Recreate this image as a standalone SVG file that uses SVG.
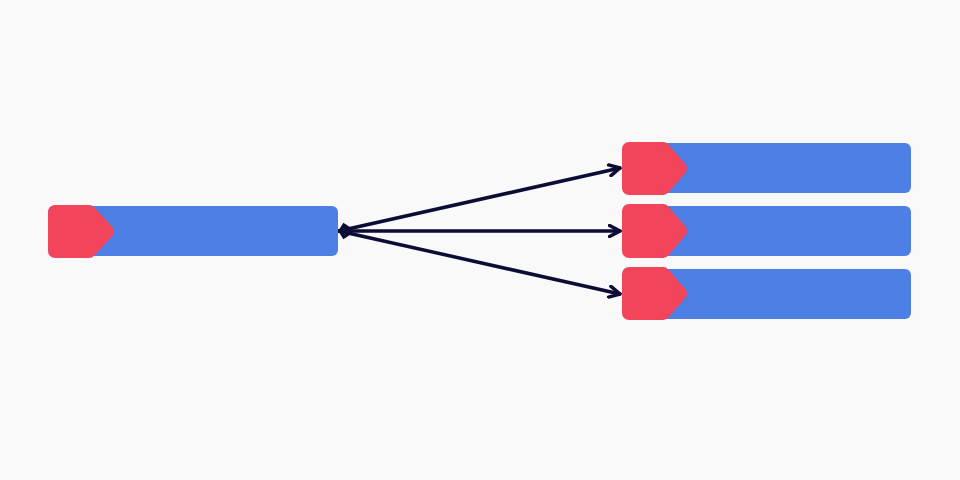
<svg xmlns="http://www.w3.org/2000/svg" width="960" height="480" viewBox="0 0 960 480">
<style>
.bar{fill:#4e7fe4}
.tag{fill:#f2445a;stroke:#f2445a;stroke-width:14;stroke-linejoin:round}
.edge{stroke:#0b0d35;stroke-width:3.5;fill:none;stroke-linecap:round}
</style>
<defs>
<marker id="arr" viewBox="0 0 14 14" refX="12.5" refY="7" markerWidth="14" markerHeight="14" markerUnits="userSpaceOnUse" orient="auto">
<path d="M2,1.5 L12.5,7 L2,12.5" fill="none" stroke="#0b0d35" stroke-width="3.5" stroke-linecap="round" stroke-linejoin="round"/>
</marker>
<marker id="dia" viewBox="0 0 16 16" refX="1" refY="8" markerWidth="16" markerHeight="16" markerUnits="userSpaceOnUse" orient="auto">
<path d="M0,8 L7,1 L14,8 L7,15 Z" fill="#0b0d35"/>
</marker>
</defs>
<rect width="960" height="480" fill="#f9f9f9"/>
<g id="connectors">
<line class="edge" x1="339" y1="231" x2="620" y2="168" marker-start="url(#dia)" marker-end="url(#arr)"/>
<line class="edge" x1="339" y1="231" x2="620" y2="231" marker-start="url(#dia)" marker-end="url(#arr)"/>
<line class="edge" x1="339" y1="231" x2="620" y2="294" marker-start="url(#dia)" marker-end="url(#arr)"/>
</g>
<g id="node-left">
<rect class="bar" x="48" y="206" width="290" height="50" rx="6"/>
<polygon class="tag" points="55,212 89,212 107,231.5 89,251 55,251"/>
</g>
<g id="node-r1">
<rect class="bar" x="640" y="143" width="271" height="50" rx="6"/>
<polygon class="tag" points="629,149 663,149 680,168.5 663,188 629,188"/>
</g>
<g id="node-r2">
<rect class="bar" x="640" y="206" width="271" height="50" rx="6"/>
<polygon class="tag" points="629,211 663,211 680,231 663,251 629,251"/>
</g>
<g id="node-r3">
<rect class="bar" x="640" y="269" width="271" height="50" rx="6"/>
<polygon class="tag" points="629,274 663,274 680,293.5 663,313 629,313"/>
</g>
</svg>
